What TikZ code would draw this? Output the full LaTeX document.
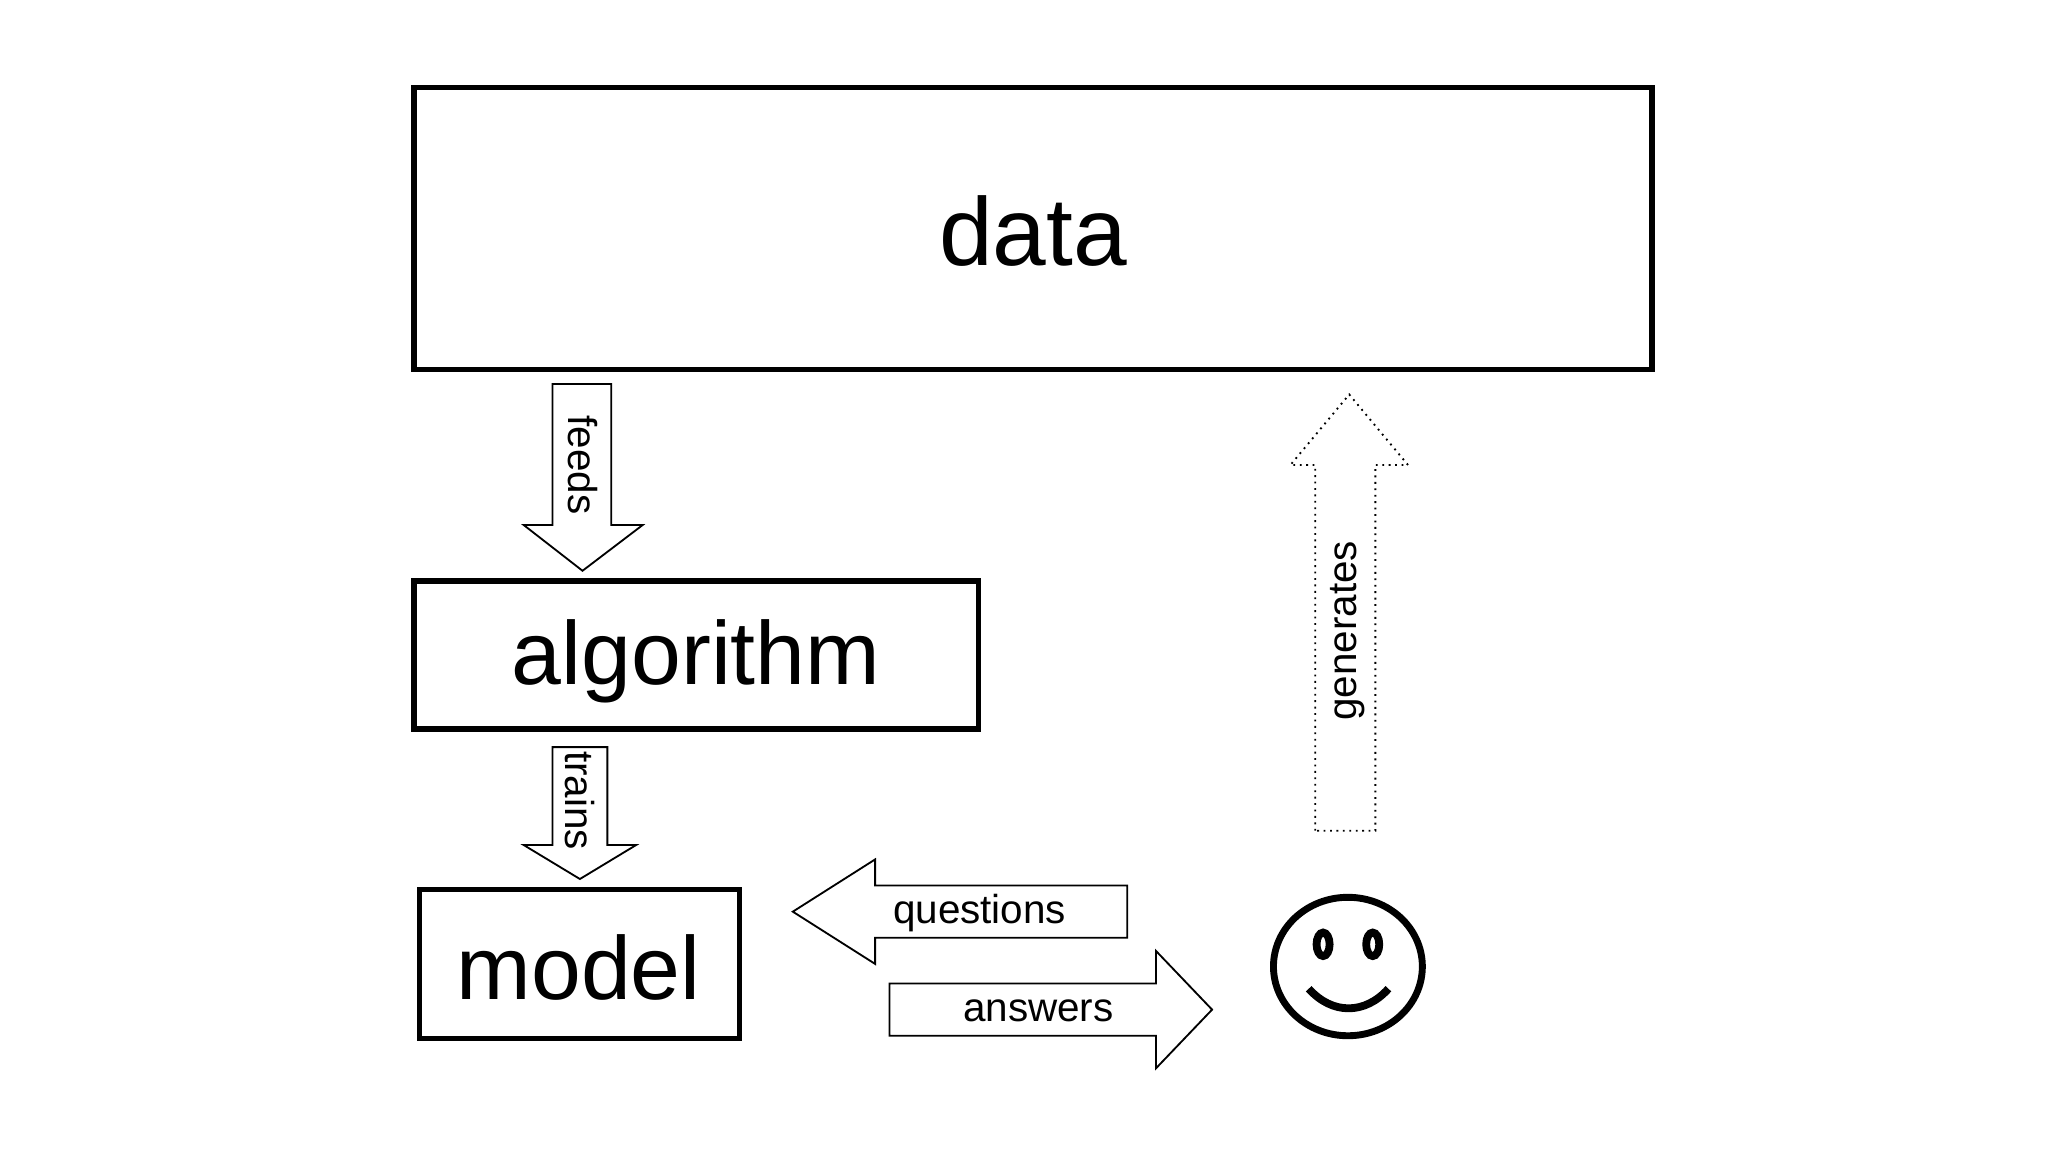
\documentclass[tikz,border=0pt]{standalone}
\usepackage{fontspec}
\setmainfont{Liberation Sans}
\begin{document}
\begin{tikzpicture}[x=0.01cm,y=-0.01cm,
  box/.style={draw,line width=1.2pt},
  arr/.style={draw,line width=0.4pt,fill=white},
  lbl/.style={font=\fontsize{8.8}{10}\selectfont}]
\useasboundingbox (0,0) rectangle (1568,882);
\draw[box] (317,67) rectangle (1265,283);
\node[font=\fontsize{21}{24}\selectfont] (data) at (791,177) {data};
\draw[box] (317,445) rectangle (749,558);
\node[font=\fontsize{19.5}{23}\selectfont] (alg) at (533,506) {algorithm};
\draw[box] (321,681) rectangle (566,795);
\node[font=\fontsize{19.5}{23}\selectfont] (model) at (443,741) {model};
% feeds
\draw[arr] (423,294) -- (468,294) -- (468,402) -- (492,402) -- (446,437) -- (401,402) -- (423,402) -- cycle;
\node[lbl,rotate=-90] (feeds) at (446,356) {feeds};
% trains
\draw[arr] (423,572) -- (465,572) -- (465,647) -- (487,647) -- (444,673) -- (401,647) -- (423,647) -- cycle;
\node[lbl,rotate=-90] (trains) at (444,613) {trains};
% questions
\draw[arr] (863,678) -- (670,678) -- (670,658) -- (607,698) -- (670,738) -- (670,718) -- (863,718) -- cycle;
\node[lbl] (q) at (750,699) {questions};
% answers
\draw[arr] (681,753) -- (885,753) -- (885,728) -- (928,773) -- (885,818) -- (885,793) -- (681,793) -- cycle;
\node[lbl] (a) at (795,774) {answers};
% generates
\draw[arr,densely dotted] (1007,636) -- (1007,356) -- (988,356) -- (1033,302) -- (1078,356) -- (1053,356) -- (1053,636) -- cycle;
\node[lbl,rotate=90] (g) at (1032,483) {generates};
% smiley
\draw[line width=1.5pt] (1032,740) ellipse [x radius=57, y radius=53];
\draw[line width=1.7pt] (1013,723) ellipse [x radius=5, y radius=9];
\draw[line width=1.7pt] (1051,723) ellipse [x radius=5, y radius=9];
\draw[line width=1.7pt] (1002,757) .. controls (1020,777) and (1045,777) .. (1063,757);
\end{tikzpicture}
\end{document}
